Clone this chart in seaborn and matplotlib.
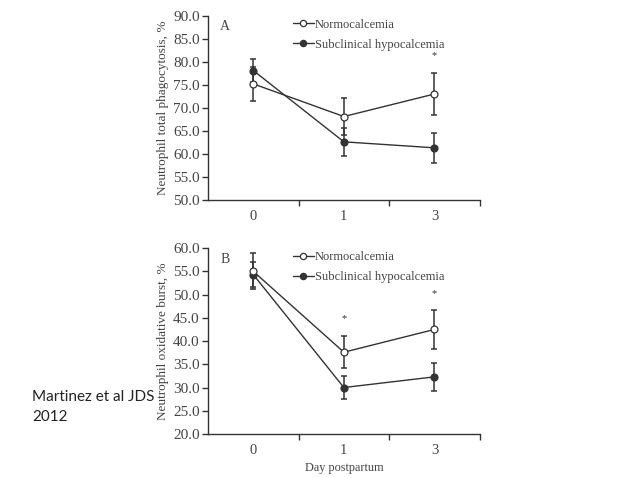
import numpy as np
import pandas as pd
import matplotlib
matplotlib.use("Agg")
import matplotlib.pyplot as plt
import seaborn as sns

# --- Daten ---
days = ["0", "1", "3"]
series = ["Normocalcemia", "Subclinical hypocalcemia"]

phago_normo = [75.2, 68.1, 73.0]
phago_normo_err = [3.7, 4.0, 4.6]
phago_sub = [78.1, 62.6, 61.3]
phago_sub_err = [2.5, 3.0, 3.3]

burst_normo = [55.0, 37.6, 42.5]
burst_normo_err = [3.9, 3.4, 4.2]
burst_sub = [54.3, 30.0, 32.3]
burst_sub_err = [2.7, 2.4, 3.0]

stars_a = [(2, 81.3)]
stars_b = [(1, 44.8), (2, 50.2)]

sns.set_style("ticks")
plt.rcParams["font.family"] = ["Liberation Serif", "DejaVu Serif"]

ink = "#333333"
txt = "#444444"


def make_df(normo, normo_err, sub, sub_err):
    rows = []
    for name, vals, errs in [(series[0], normo, normo_err), (series[1], sub, sub_err)]:
        for i, d in enumerate(days):
            rows.append({"Gruppe": name, "pos": i, "Tag": d, "Wert": vals[i], "Fehler": errs[i]})
    return pd.DataFrame(rows)


def panel(ax, df, ylim, ylabel, letter, stars, xlabel=None):
    styles = {
        series[0]: dict(markerfacecolor="white"),
        series[1]: dict(markerfacecolor=ink),
    }
    # erst Subclinical, dann Normo obendrauf
    for name in [series[1], series[0]]:
        sub = df[df["Gruppe"] == name]
        ax.errorbar(sub["pos"], sub["Wert"], yerr=sub["Fehler"], fmt="none",
                    ecolor=ink, elinewidth=1.1, capsize=2.5, capthick=1.1, zorder=2)
        sns.lineplot(data=sub, x="pos", y="Wert", ax=ax, color=ink, lw=1.0,
                     marker="o", markersize=5, markeredgecolor=ink, markeredgewidth=0.9,
                     label=name, zorder=3, **styles[name])

    ax.set_xlim(-0.5, 2.28)
    ax.set_ylim(*ylim)
    ticks = np.arange(ylim[0], ylim[1] + 0.1, 5)
    ax.set_yticks(ticks)
    ax.set_yticklabels([f"{v:.1f}" for v in ticks])
    ax.set_xticks(range(len(days)))
    ax.set_xticklabels(days)
    ax.set_xticks([0.5, 1.5, 2.5], minor=True)
    ax.tick_params(axis="x", which="major", length=0, pad=7, labelsize=10.5, colors=txt)
    ax.tick_params(axis="x", which="minor", length=4, width=1, color=ink)
    ax.tick_params(axis="y", length=4, width=1, color=ink, labelsize=11, labelcolor=txt, pad=2)
    for s in ["left", "bottom"]:
        ax.spines[s].set_color(ink)
        ax.spines[s].set_linewidth(1.0)
    sns.despine(ax=ax)

    ax.set_ylabel(ylabel, fontsize=9.5, color=txt, labelpad=3)
    ax.set_xlabel(xlabel if xlabel else "", fontsize=8.8, color=txt)
    ax.text(0.045, 0.975, letter, transform=ax.transAxes, fontsize=10, color=txt,
            va="top", ha="left")
    for x, y in stars:
        ax.text(x, y, "*", ha="center", va="center", fontsize=7.5, color=ink)

    h, l = ax.get_legend_handles_labels()
    order = [l.index(series[0]), l.index(series[1])]
    leg = ax.legend([h[i] for i in order], [l[i] for i in order], loc="upper left",
                    bbox_to_anchor=(0.27, 1.045), frameon=False, fontsize=9,
                    handlelength=1.7, handletextpad=0.1, labelspacing=0.65,
                    labelcolor=txt)
    for line in leg.get_lines():
        line.set_markersize(4.5)


fig = plt.figure(figsize=(6.38, 4.78), dpi=100)
ax_a = fig.add_axes([0.326, 0.582, 0.426, 0.385])
ax_b = fig.add_axes([0.326, 0.092, 0.426, 0.389])

df_a = make_df(phago_normo, phago_normo_err, phago_sub, phago_sub_err)
df_b = make_df(burst_normo, burst_normo_err, burst_sub, burst_sub_err)

panel(ax_a, df_a, (50, 90), "Neutrophil total phagocytosis, %", "A", stars_a)
panel(ax_b, df_b, (20, 60), "Neutrophil oxidative burst, %", "B", stars_b,
      xlabel="Day postpartum")

fig.text(0.05, 0.184, "Martinez et al JDS\n2012", fontsize=11, color="#222222",
         family=["Lato", "DejaVu Sans"], va="top", ha="left", linespacing=1.55)

fig.savefig("out.png", dpi=100, facecolor="white")
